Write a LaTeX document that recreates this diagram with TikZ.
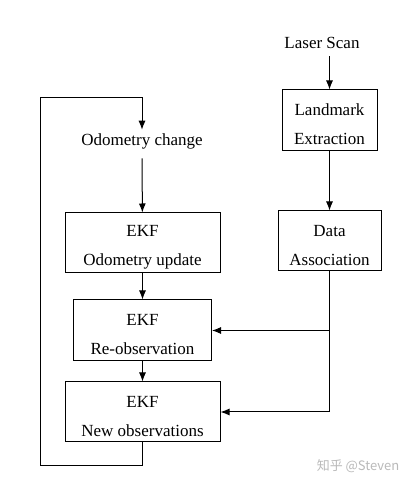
\documentclass[tikz,border=0pt]{standalone}
\usepackage{fontspec}
\setmainfont{Liberation Serif}
\newfontfamily\cjk{Noto Sans CJK SC}
\usetikzlibrary{positioning, arrows.meta}
\tikzstyle{box} = [rectangle, draw, line width=1pt, align=center, inner sep=0pt, font=\fontsize{17}{29}\selectfont, execute at begin node={\rule{0pt}{49pt}}]
\tikzstyle{lbl} = [font=\fontsize{17}{20}\selectfont]
\tikzstyle{arr} = [-{Latex[length=9pt, width=7pt]}, line width=1pt]

\begin{document}
\begin{tikzpicture}[x=1pt, y=1pt]
    \useasboundingbox (0,0) rectangle (413,487);

    \node[lbl] (laser) at (322, 444) {Laser Scan};
    \node[box, minimum width=95pt, minimum height=61pt] (land) at (329.5, 366.5) {
        Landmark \\ Extraction
    };
    \node[box, minimum width=103pt, minimum height=60pt, below=59pt of land] (data) {
        Data \\ Association
    };

    \node[lbl] (odo) at (142, 346) {Odometry change};
    \node[box, minimum width=155pt, minimum height=60pt] (upd) at (142.5, 244) {
        EKF \\ Odometry update
    };
    \node[box, minimum width=138pt, minimum height=61pt, below=26pt of upd] (reobs) {
        EKF \\ Re-observation
    };
    \node[box, minimum width=155pt, minimum height=60pt, below=20pt of reobs] (newobs) {
        EKF \\ New observations
    };

    \node[font=\cjk\fontsize{13}{15}\selectfont, text=gray!55] (wm) at (358, 21) {知乎 @Steven};

    \coordinate (loopbot) at (40, 21);
    \coordinate (looptop) at (40, 389);

    % Connectors
    \draw[arr, shorten <=4pt] (laser.south -| land.north) -- (land.north);
    \draw[arr] (land) -- (data);
    \draw[arr, shorten <=6pt] (odo) -- (upd);
    \draw[arr] (upd) -- (reobs);
    \draw[arr] (reobs) -- (newobs);
    \draw[arr] (data) |- (newobs);
    \draw[arr] (data |- reobs) -- (reobs);
    \draw[arr] (newobs.south) |- (loopbot) -- (looptop) -| (odo.north);

\end{tikzpicture}
\end{document}
